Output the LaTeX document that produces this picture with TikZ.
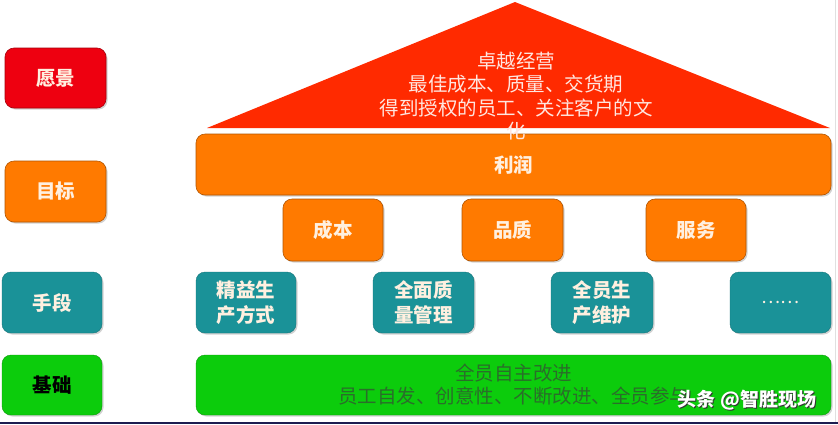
\documentclass[tikz,border=0pt]{standalone}
\usepackage{fontspec}
\setmainfont{Noto Sans CJK SC}
\usetikzlibrary{shadows}
\definecolor{cRed}{HTML}{EE0010}
\definecolor{cRoof}{HTML}{FF2A00}
\definecolor{cOrange}{HTML}{FF7A00}
\definecolor{cTeal}{HTML}{1A9298}
\definecolor{cGreen}{HTML}{0CCC0C}
\definecolor{cGreenText}{HTML}{2A6E2A}
\definecolor{cRoofText}{HTML}{FFE6E0}
\definecolor{cLabelText}{HTML}{FFF0E0}
\definecolor{cNavy}{HTML}{1C1C50}
\tikzset{
  basebox/.style={rounded corners=9pt, inner sep=0pt, align=center,
    drop shadow={opacity=0.35, shadow xshift=1.5pt, shadow yshift=-1.5pt},
    text=cLabelText, font=\bfseries\fontsize{19.5}{25}\selectfont},
  redbox/.style={basebox, fill=cRed, draw=cRed!70!black, line width=0.6pt},
  orangebox/.style={basebox, fill=cOrange, draw=cOrange!70!black, line width=0.6pt},
  tealbox/.style={basebox, fill=cTeal, draw=cTeal!80!black, line width=0.4pt},
  greenbox/.style={basebox, fill=cGreen, draw=cGreen!75!black, line width=0.4pt},
  lbl/.style={minimum width=#1, minimum height=61pt},
}
\begin{document}
\begin{tikzpicture}[x=1pt,y=-1pt]
\useasboundingbox (0,0) rectangle (838,424);
\fill[white] (0,0) rectangle (838,424);
% left labels
\node[redbox, lbl=101pt, minimum height=60pt] (vision) at (55.5,78) {愿景};
\node[orangebox, lbl=101pt] (goal) at (55.5,191.5) {目标};
\node[tealbox, lbl=100pt] (means) at (52,302.5) {手段};
\node[greenbox, lbl=100pt, minimum height=60pt, text=black] (base) at (52,385) {基础};
% roof
\fill[cRoof] (207,128) -- (515,2) -- (830,128) -- cycle;
\draw[white, line width=1.5pt] (205,130) -- (832,130);
% profit
\node[orangebox, lbl=635pt] (profit) at (513.5,164.5) {利润};
\node[orangebox, lbl=100pt, minimum height=62pt] (cost) at (333,230) {成本};
\node[orangebox, lbl=101pt, minimum height=62pt] (quality) at (512.5,230) {品质};
\node[orangebox, lbl=100pt, minimum height=62pt] (service) at (696,230) {服务};
% roof text (drawn over the profit bar)
\node[align=center, text=cRoofText, inner sep=0pt,
  font=\fontsize{19.5}{23.5}\selectfont] (roof) at (516,96)
  {卓越经营\\最佳成本、质量、交货期\\得到授权的员工、关注客户的文\\化};
% means
\node[tealbox, lbl=100pt] (lean) at (246,302.5) {精益生\\产方式};
\node[tealbox, lbl=101pt] (tqm) at (423.5,302.5) {全面质\\量管理};
\node[tealbox, lbl=102pt] (tpm) at (602,302.5) {全员生\\产维护};
\node[tealbox, lbl=101pt, font=\fontsize{18}{20}\selectfont] (more) at (780.5,302.5) {……};
% base
\node[greenbox, lbl=635pt, minimum height=60pt, text=cGreenText,
  font=\fontsize{19.5}{23}\selectfont] (found) at (513.5,385)
  {全员自主改进\\员工自发、创意性、不断改进、全员参与};
% watermark
\node[font=\bfseries\fontsize{19}{22}\selectfont, text=black!80, inner sep=0pt]
  (wmshadow) at (748,401) {头条 @智胜现场};
\node[font=\bfseries\fontsize{19}{22}\selectfont, text=white, inner sep=0pt]
  (wm) at (747,400) {头条 @智胜现场};
% frame lines
\fill[cNavy] (0,421.5) rectangle (838,424);
\fill[black!12] (834.5,0) rectangle (836,421.5);
\end{tikzpicture}
\end{document}
